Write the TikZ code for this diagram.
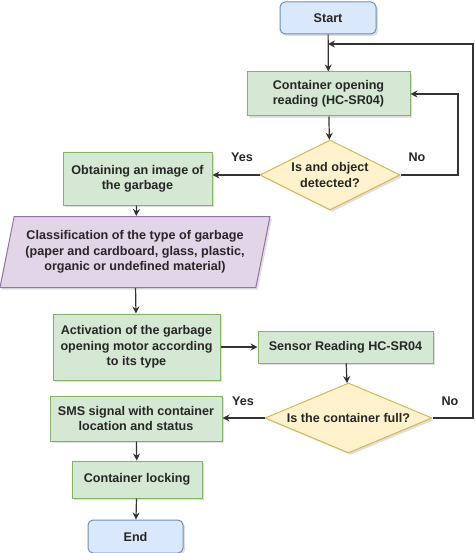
\documentclass[tikz,border=0pt]{standalone}
\usepackage{fontspec}
\setmainfont{Liberation Sans}
\usetikzlibrary{shapes.geometric,arrows.meta,shadows}

\definecolor{VertFond}{HTML}{D5E8D4}
\definecolor{VertBord}{HTML}{82B366}
\definecolor{BleuFond}{HTML}{DAE8FC}
\definecolor{BleuBord}{HTML}{6C8EBF}
\definecolor{JauneFond}{HTML}{FFF2CC}
\definecolor{JauneBord}{HTML}{D6B656}
\definecolor{MauveFond}{HTML}{E1D5E7}
\definecolor{MauveBord}{HTML}{9673A6}

\begin{document}
\begin{tikzpicture}[x=1pt,y=-1pt,
    every node/.style={font=\bfseries\fontsize{12.6}{15.5}\selectfont,align=center,text=black!85},
    ombre/.style={drop shadow={opacity=0.25,shadow xshift=2pt,shadow yshift=-2pt}},
    boite/.style={draw=VertBord,fill=VertFond,line width=1pt,ombre,inner sep=1pt},
    terminal/.style={draw=BleuBord,fill=BleuFond,line width=1pt,rounded corners=5pt,ombre},
    question/.style={diamond,draw=JauneBord,fill=JauneFond,line width=1pt,inner sep=0pt,ombre},
    donnee/.style={trapezium,trapezium left angle=74,trapezium right angle=106,
        trapezium stretches body,draw=MauveBord,fill=MauveFond,line width=1pt,ombre},
    fleche/.style={-{Stealth[length=7pt,width=7pt]},line width=1.2pt,draw=black!80},
    etiq/.style={font=\bfseries\fontsize{12.6}{15.5}\selectfont}]

\useasboundingbox (0,0) rectangle (474,553);

% les blocs
\node[terminal,minimum width=96pt,minimum height=32pt] (start) at (328,18) {Start};
\node[boite,minimum width=163pt,minimum height=44pt] (reading) at (328.5,94) {Container opening\\reading (HC-SR04)};
\node[question,minimum width=140pt,minimum height=70pt] (detect) at (330,175) {};
\node (detecttxt) at (detect) {Is and object\\detected?};
\node[boite,minimum width=149pt,minimum height=52pt] (image) at (137.5,179) {Obtaining an image of\\the garbage};
\node[donnee,minimum width=270pt,minimum height=71pt] (classif) at (135,252) {Classification of the type of garbage\\(paper and cardboard, glass, plastic,\\organic or undefined material)};
\node[boite,minimum width=167pt,minimum height=66pt] (activ) at (136.5,347) {Activation of the garbage\\opening motor according\\to its type};
\node[boite,minimum width=175pt,minimum height=32pt] (sensor) at (345.5,347) {Sensor Reading HC-SR04};
\node[question,minimum width=167pt,minimum height=70pt] (full) at (348.5,418) {};
\node (fulltxt) at (full) {Is the container full?};
\node[boite,minimum width=172pt,minimum height=45pt] (sms) at (136,418.5) {SMS signal with container\\location and status};
\node[boite,minimum width=130pt,minimum height=37pt] (lock) at (137,479.5) {Container locking};
\node[terminal,minimum width=95pt,minimum height=33pt] (end) at (135.5,536.5) {End};

\coordinate (retour) at (328,44);

% les liaisons
\draw[fleche] (start) -- (reading);
\draw[fleche] (reading) -- (detect);
\draw[fleche] (detect.east) -- (458,175) |- (reading.east);
\draw[fleche] (detect.west) -- (detect.west -| image.east);
\draw[fleche] (image) -- (classif);
\draw[fleche] (classif) -- (activ);
\draw[fleche] (activ) -- (sensor);
\draw[fleche] (sensor) -- (full);
\draw[fleche] (full.west) -- (full.west -| sms.east);
\draw[fleche] (full.east) -- (473,418) |- (retour);
\draw[fleche] (sms) -- (lock);
\draw[fleche] (lock) -- (end);

% les etiquettes
\node[etiq] (oui1) at (242,157) {Yes};
\node[etiq] (non1) at (417,157) {No};
\node[etiq] (oui2) at (243,401) {Yes};
\node[etiq] (non2) at (450,401) {No};

\end{tikzpicture}
\end{document}
